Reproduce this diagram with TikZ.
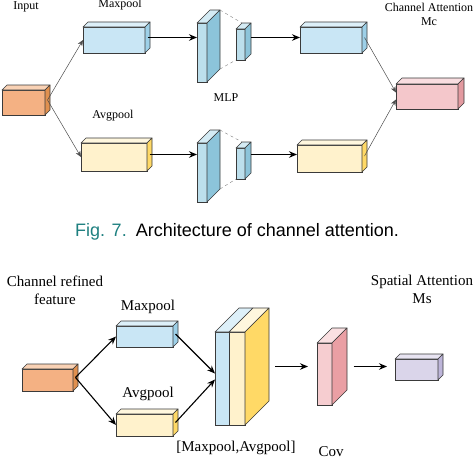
\documentclass[tikz,border=0pt]{standalone}
\usepackage{fontspec}
\setmainfont{Liberation Serif}
\newfontfamily\capfont{Liberation Sans}
\usetikzlibrary{arrows.meta,positioning}

\definecolor{edge}{HTML}{3A3A3A}
\definecolor{figteal}{HTML}{1E8080}
\definecolor{orgF}{HTML}{F4B183}\definecolor{orgT}{HTML}{F9D2B5}\definecolor{orgS}{HTML}{E0904F}
\definecolor{bluF}{HTML}{C9E6F5}\definecolor{bluT}{HTML}{DDF0F9}\definecolor{bluS}{HTML}{9DD0E8}
\definecolor{mlpF}{HTML}{BCDFEC}\definecolor{mlpT}{HTML}{D4EBF4}\definecolor{mlpS}{HTML}{8CC4DA}
\definecolor{ylwF}{HTML}{FFF2CC}\definecolor{ylwT}{HTML}{FFF7DE}\definecolor{ylwS}{HTML}{FFD966}
\definecolor{pnkF}{HTML}{F4C7CB}\definecolor{pnkT}{HTML}{F9DDE0}\definecolor{pnkS}{HTML}{E39AA0}
\definecolor{covF}{HTML}{F6CDD0}\definecolor{covT}{HTML}{FAE0E2}\definecolor{covS}{HTML}{EA9FA4}
\definecolor{prpF}{HTML}{DAD5EA}\definecolor{prpT}{HTML}{E8E4F2}\definecolor{prpS}{HTML}{BDB5D9}

\tikzset{
  cube/.style={draw=edge, line width=.6pt, inner sep=0pt, outer sep=0pt, anchor=north west},
  facet/.style={draw=edge, line width=.6pt, line join=round},
  lbl/.style={font=\fontsize{12}{14}\selectfont, align=center, inner sep=0pt},
  blbl/.style={font=\fontsize{15}{18}\selectfont, align=center, inner sep=0pt},
  figcap/.style={font=\capfont\fontsize{18}{20}\selectfont, inner sep=0pt},
  flow/.style={-{Stealth[length=8pt,width=6.5pt]}, line width=1.1pt},
  thin flow/.style={-{Stealth[length=6pt,width=5pt]}, line width=.5pt, draw=black!70},
  mlp link/.style={line width=.4pt, draw=black!50, dashed},
}

% name, x, y (front north west), width, height, depth, colour
\newcommand{\cuboid}[7]{%
  \node[cube, fill=#7F, minimum width=#4pt, minimum height=#5pt] (#1) at (#2,#3) {};
  \filldraw[facet, fill=#7T] (#1.north west) -- ++(#6,-#6) coordinate (#1-bnw)
    -- ++(#4,0) coordinate (#1-bne) -- (#1.north east) -- cycle;
  \filldraw[facet, fill=#7S] (#1.north east) -- (#1-bne) -- ++(0,#5) coordinate (#1-bse)
    -- (#1.south east) -- cycle;
  \path (#1.east) ++(0.5*#6,-0.5*#6) coordinate (#1-r);
}

\begin{document}
\begin{tikzpicture}[x=1pt, y=-1pt]
  \useasboundingbox (0,0) rectangle (474,459);

  % channel attention
  \cuboid{inp}{2}{90}{43}{25}{5}{org}
  \cuboid{mx}{83}{27}{62}{26}{5}{blu}
  \cuboid{av}{81}{143}{66}{28}{5}{ylw}
  \cuboid{mlpa}{197}{23}{10}{59}{13}{mlp}
  \cuboid{mlpb}{236}{29}{9}{31}{6}{mlp}
  \cuboid{mlpc}{197}{143}{10}{59}{13}{mlp}
  \cuboid{mlpd}{236}{148}{9}{31}{6}{mlp}
  \cuboid{omx}{300}{27}{62}{26}{5}{blu}
  \cuboid{oav}{297}{145}{65}{27}{5}{ylw}
  \cuboid{mc}{396}{84}{62}{25}{6}{pnk}

  \draw[thin flow] (inp-r) -- (mx.west);
  \draw[thin flow] (inp-r) -- (av.west);
  \draw[flow] (mx-r) -- (mx-r -| mlpa.west);
  \draw[flow] (av-r) -- (av-r -| mlpc.west);
  \draw[mlp link] (mlpa-bne) -- (mlpb-bnw);
  \draw[mlp link] (mlpa-bse) -- (mlpb.south west);
  \draw[mlp link] (mlpc-bne) -- (mlpd-bnw);
  \draw[mlp link] (mlpc-bse) -- (mlpd.south west);
  \draw[flow] (mx-r -| mlpb-bne) -- (mx-r -| omx.west);
  \draw[flow] (av-r -| mlpd-bne) -- (av-r -| oav.west);
  \draw[thin flow] (omx-r) -- ([yshift=4pt]mc.west);
  \draw[thin flow] (oav-r) -- ([yshift=-3pt]mc.west);

  \node[lbl] (tinp) at (26,7) {Input};
  \node[lbl] (tmx) at (120,5) {Maxpool};
  \node[lbl] (tav) at (113,116) {Avgpool};
  \node[lbl] (tmlp) at (226,98) {MLP};
  \node[lbl] (tmc) at (429,14) {Channel Attention\\Mc};

  \node[figcap] (caption) at (237,232) {\textcolor{figteal}{Fig. 7.}\enspace Architecture of channel attention.};

  % spatial attention
  \cuboid{cin}{22}{369}{51}{22}{5}{org}
  \cuboid{bmx}{116}{326}{57}{21}{5}{blu}
  \cuboid{bav}{116}{414}{57}{22}{5}{ylw}
  \node[cube, fill=bluF, minimum width=14pt, minimum height=93pt] (cb) at (215,332) {};
  \node[cube, fill=ylwF, minimum width=16pt, minimum height=93pt, right=0pt of cb] (cy) {};
  \filldraw[facet, fill=bluT] (cb.north west) -- ++(24,-24) -- ++(14,0) -- (cb.north east) -- cycle;
  \filldraw[facet, fill=ylwT] (cy.north west) -- ++(24,-24) -- ++(16,0) coordinate (cy-bne)
    -- (cy.north east) -- cycle;
  \filldraw[facet, fill=ylwS] (cy.north east) -- (cy-bne) -- ++(0,93) -- (cy.south east) -- cycle;
  \path (cy.east) ++(12,-12) coordinate (cy-r);
  \cuboid{cov}{317}{343}{15}{62}{15}{cov}
  \cuboid{ms}{395}{359}{43}{21}{5}{prp}

  \draw[flow] (cin-r) -- (bmx.west);
  \draw[flow] (cin-r) -- (bav.west);
  \draw[flow] (bmx-r) -- ([yshift=5pt]cb.west);
  \draw[flow] (bav-r) -- ([yshift=-1pt]cb.west);
  \draw[flow, shorten <=18pt, shorten >=9pt] (cy-r) -- (cy-r -| cov.west);
  \draw[flow, shorten <=14pt, shorten >=8pt] (cov-r) -- (cov-r -| ms.west);

  \node[blbl] (tcin) at (55,290) {Channel refined\\feature};
  \node[blbl] (tbmx) at (148,307) {Maxpool};
  \node[blbl] (tbav) at (148,394) {Avgpool};
  \node[blbl] (tcat) at (236,448) {[Maxpool,Avgpool]};
  \node[blbl] (tcov) at (331,452) {Cov};
  \node[blbl] (tms) at (422,289) {Spatial Attention\\Ms};
\end{tikzpicture}
\end{document}
